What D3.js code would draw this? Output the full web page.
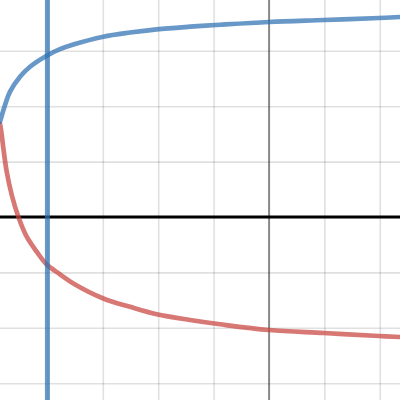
<!DOCTYPE html>
<html>
<head>
<meta charset="utf-8">
<script src="https://cdn.jsdelivr.net/npm/d3@7"></script>
<style>
html,body{margin:0;padding:0;background:#fff;}
svg{display:block;}
</style>
</head>
<body>
<svg id="chart" width="400" height="400"></svg>
<script>
// Data (in graph units)
const xDomain = [-4.856, 2.365];
const yDomain = [-3.303, 3.917];
const gridX = [-4, -3, -2, -1, 0, 1, 2];
const gridY = [-3, -2, -1, 0, 1, 2, 3];
const blueX = [-4.856, -4.765, -4.675, -4.495, -4.314, -4.013, -3.773, -3.532, -2.991, -2.509, -2.027, -1.426, -0.884, 0, 0.993, 1.986, 2.365];
const blueY = [1.720, 2.022, 2.262, 2.532, 2.713, 2.912, 3.030, 3.114, 3.255, 3.330, 3.388, 3.435, 3.470, 3.520, 3.556, 3.592, 3.610];
const redX = [-4.856, -4.829, -4.796, -4.735, -4.644, -4.525, -4.374, -4.193, -4.013, -3.773, -3.532, -2.991, -2.509, -2.027, -1.426, -0.884, 0, 0.993, 1.986, 2.365];
const redY = [1.679, 1.516, 1.245, 0.818, 0.397, 0.005, -0.356, -0.627, -0.857, -1.034, -1.199, -1.470, -1.622, -1.756, -1.859, -1.936, -2.040, -2.094, -2.148, -2.166];
const verticalLineX = [-4];
const horizontalLineY = [0];
const yAxisX = [0];

const W = 400, H = 400;
const svg = d3.select("#chart");
const x = d3.scaleLinear().domain(xDomain).range([0, W]);
const y = d3.scaleLinear().domain(yDomain).range([H, 0]);

// grid via axes
const gx = svg.append("g").attr("transform", `translate(0,${H})`)
  .call(d3.axisBottom(x).tickValues(gridX).tickSize(-H).tickFormat(""));
const gy = svg.append("g")
  .call(d3.axisLeft(y).tickValues(gridY).tickSize(-W).tickFormat(""));
[gx, gy].forEach(g => {
  g.select(".domain").remove();
  g.selectAll("line").attr("stroke", "#000").attr("stroke-opacity", 0.12).attr("stroke-width", 1.6);
});

// y axis (darker)
svg.selectAll(".yaxis").data(yAxisX).enter().append("line")
  .attr("x1", d => x(d)).attr("x2", d => x(d)).attr("y1", 0).attr("y2", H)
  .attr("stroke", "#000").attr("stroke-opacity", 0.4).attr("stroke-width", 2);

// horizontal black line
svg.selectAll(".hline").data(horizontalLineY).enter().append("line")
  .attr("x1", 0).attr("x2", W).attr("y1", d => y(d)).attr("y2", d => y(d))
  .attr("stroke", "#000").attr("stroke-width", 3);

const line = d3.line().x(d => x(d[0])).y(d => y(d[1])).curve(d3.curveCatmullRom.alpha(0.5));

svg.append("path").datum(redX.map((v, i) => [v, redY[i]]))
  .attr("d", line).attr("fill", "none").attr("stroke", "#c74440")
  .attr("stroke-opacity", 0.72).attr("stroke-width", 4.7).attr("stroke-linecap", "round");

svg.append("path").datum(blueX.map((v, i) => [v, blueY[i]]))
  .attr("d", line).attr("fill", "none").attr("stroke", "#2d70b3")
  .attr("stroke-opacity", 0.72).attr("stroke-width", 4.7).attr("stroke-linecap", "round");

// vertical blue line
svg.selectAll(".vline").data(verticalLineX).enter().append("line")
  .attr("x1", d => x(d)).attr("x2", d => x(d)).attr("y1", 0).attr("y2", H)
  .attr("stroke", "#2d70b3").attr("stroke-opacity", 0.72).attr("stroke-width", 5);
</script>
</body>
</html>
